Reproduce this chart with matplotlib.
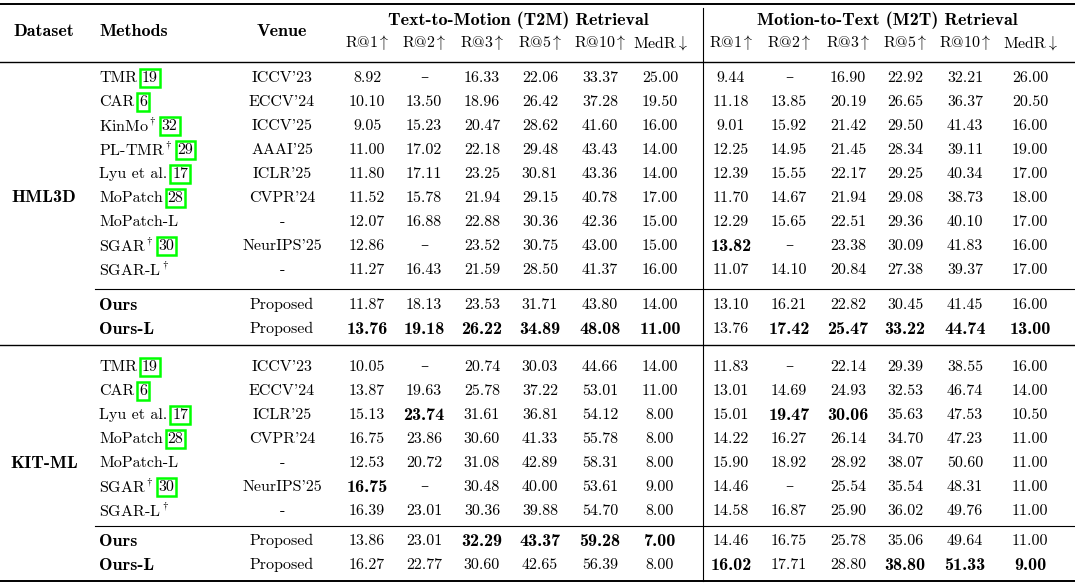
import matplotlib
matplotlib.use("Agg")
import matplotlib.pyplot as plt
from matplotlib.lines import Line2D

plt.rcParams['mathtext.fontset'] = 'cm'
REG = ['cmr10', 'DejaVu Serif']
BOLD = ['cmb10', 'DejaVu Serif']
FS = 11.5
BFS = 13

cols = ["R@1$\\uparrow$", "R@2$\\uparrow$", "R@3$\\uparrow$", "R@5$\\uparrow$", "R@10$\\uparrow$", "MedR$\\downarrow$"]

hml_methods = ["TMR", "CAR", "KinMo$^\\dagger$", "PL-TMR$^\\dagger$", "Lyu et al.", "MoPatch", "MoPatch-L", "SGAR$^\\dagger$", "SGAR-L$^\\dagger$", "Ours", "Ours-L"]
hml_cites = ["19", "6", "32", "29", "17", "28", None, "30", None, None, None]
hml_venues = ["ICCV'23", "ECCV'24", "ICCV'25", "AAAI'25", "ICLR'25", "CVPR'24", "-", "NeurIPS'25", "-", "Proposed", "Proposed"]
hml_t2m = [["8.92", "–", "16.33", "22.06", "33.37", "25.00"],
           ["10.10", "13.50", "18.96", "26.42", "37.28", "19.50"],
           ["9.05", "15.23", "20.47", "28.62", "41.60", "16.00"],
           ["11.00", "17.02", "22.18", "29.48", "43.43", "14.00"],
           ["11.80", "17.11", "23.25", "30.81", "43.36", "14.00"],
           ["11.52", "15.78", "21.94", "29.15", "40.78", "17.00"],
           ["12.07", "16.88", "22.88", "30.36", "42.36", "15.00"],
           ["12.86", "–", "23.52", "30.75", "43.00", "15.00"],
           ["11.27", "16.43", "21.59", "28.50", "41.37", "16.00"],
           ["11.87", "18.13", "23.53", "31.71", "43.80", "14.00"],
           ["13.76", "19.18", "26.22", "34.89", "48.08", "11.00"]]
hml_m2t = [["9.44", "–", "16.90", "22.92", "32.21", "26.00"],
           ["11.18", "13.85", "20.19", "26.65", "36.37", "20.50"],
           ["9.01", "15.92", "21.42", "29.50", "41.43", "16.00"],
           ["12.25", "14.95", "21.45", "28.34", "39.11", "19.00"],
           ["12.39", "15.55", "22.17", "29.25", "40.34", "17.00"],
           ["11.70", "14.67", "21.94", "29.08", "38.73", "18.00"],
           ["12.29", "15.65", "22.51", "29.36", "40.10", "17.00"],
           ["13.82", "–", "23.38", "30.09", "41.83", "16.00"],
           ["11.07", "14.10", "20.84", "27.38", "39.37", "17.00"],
           ["13.10", "16.21", "22.82", "30.45", "41.45", "16.00"],
           ["13.76", "17.42", "25.47", "33.22", "44.74", "13.00"]]
hml_bold = [(7, 6), (10, 0), (10, 1), (10, 2), (10, 3), (10, 4), (10, 5),
            (10, 7), (10, 8), (10, 9), (10, 10), (10, 11)]

kit_methods = ["TMR", "CAR", "Lyu et al.", "MoPatch", "MoPatch-L", "SGAR$^\\dagger$", "SGAR-L$^\\dagger$", "Ours", "Ours-L"]
kit_cites = ["19", "6", "17", "28", None, "30", None, None, None]
kit_venues = ["ICCV'23", "ECCV'24", "ICLR'25", "CVPR'24", "-", "NeurIPS'25", "-", "Proposed", "Proposed"]
kit_t2m = [["10.05", "–", "20.74", "30.03", "44.66", "14.00"],
           ["13.87", "19.63", "25.78", "37.22", "53.01", "11.00"],
           ["15.13", "23.74", "31.61", "36.81", "54.12", "8.00"],
           ["16.75", "23.86", "30.60", "41.33", "55.78", "8.00"],
           ["12.53", "20.72", "31.08", "42.89", "58.31", "8.00"],
           ["16.75", "–", "30.48", "40.00", "53.61", "9.00"],
           ["16.39", "23.01", "30.36", "39.88", "54.70", "8.00"],
           ["13.86", "23.01", "32.29", "43.37", "59.28", "7.00"],
           ["16.27", "22.77", "30.60", "42.65", "56.39", "8.00"]]
kit_m2t = [["11.83", "–", "22.14", "29.39", "38.55", "16.00"],
           ["13.01", "14.69", "24.93", "32.53", "46.74", "14.00"],
           ["15.01", "19.47", "30.06", "35.63", "47.53", "10.50"],
           ["14.22", "16.27", "26.14", "34.70", "47.23", "11.00"],
           ["15.90", "18.92", "28.92", "38.07", "50.60", "11.00"],
           ["14.46", "–", "25.54", "35.54", "48.31", "11.00"],
           ["14.58", "16.87", "25.90", "36.02", "49.76", "11.00"],
           ["14.46", "16.75", "25.78", "35.06", "49.64", "11.00"],
           ["16.02", "17.71", "28.80", "38.80", "51.33", "9.00"]]
kit_bold = [(2, 1), (2, 7), (2, 8), (5, 0), (7, 2), (7, 3), (7, 4), (7, 5),
            (8, 6), (8, 9), (8, 10), (8, 11)]

W, H = 1075, 585
fig = plt.figure(figsize=(W / 100, H / 100), dpi=100)
fig.patch.set_facecolor('white')
renderer = fig.canvas.get_renderer()

def T(x, y, s, bold=False, ha='center', size=None):
    if size is None:
        size = BFS if bold else FS
    return fig.text(x / W, 1 - y / H, s, ha=ha, va='center', fontsize=size,
                    family=BOLD if bold else REG)

def hline(y, x0=0, x1=W, lw=0.8):
    fig.add_artist(Line2D([x0 / W, x1 / W], [1 - y / H, 1 - y / H], color='black', lw=lw))

numx = [367, 424, 482, 540, 600, 660, 731, 789, 848, 905, 965, 1030]

# header
T(44, 32, "Dataset", bold=True)
T(99, 32, "Methods", bold=True, ha='left')
T(282, 32, "Venue", bold=True)
T(518, 20, "Text-to-Motion (T2M) Retrieval", bold=True)
T(887, 20, "Motion-to-Text (M2T) Retrieval", bold=True)
for i, c in enumerate(cols + cols):
    T(numx[i], 43, c)

def block(ys, methods, cites, venues, t2m, m2t, bold, name, namey):
    T(44, namey, name, bold=True)
    for r, y in enumerate(ys):
        isours = methods[r].startswith("Ours")
        t = T(99, y, methods[r], bold=isours, ha='left')
        if cites[r]:
            bb = t.get_window_extent(renderer)
            fig.text((bb.x1 + 5) / W, 1 - y / H, cites[r], ha='left', va='center',
                     fontsize=FS, family=REG,
                     bbox=dict(boxstyle='square,pad=0.12', fc='none', ec='#00ff00', lw=1.8))
        T(282, y, venues[r])
        vals = t2m[r] + m2t[r]
        for c, v in enumerate(vals):
            T(numx[c], y, v, bold=(r, c) in bold)

hml_y = [78, 102, 126, 150, 174, 198, 222, 246, 270, 305, 329]
kit_y = [367, 391, 415, 439, 463, 487, 511, 541, 565]
block(hml_y, hml_methods, hml_cites, hml_venues, hml_t2m, hml_m2t, hml_bold, "HML3D", 198)
block(kit_y, kit_methods, kit_cites, kit_venues, kit_t2m, kit_m2t, kit_bold, "KIT-ML", 463)

hline(4, lw=1.4)
hline(62, lw=1.0)
hline(289, 95, W, lw=0.8)
hline(345, lw=1.0)
hline(526, 95, W, lw=0.8)
hline(581, lw=1.4)
fig.add_artist(Line2D([703 / W, 703 / W], [1 - 8 / H, 1 - 581 / H], color='black', lw=0.8))

fig.savefig("out.png", dpi=100, facecolor='white')
